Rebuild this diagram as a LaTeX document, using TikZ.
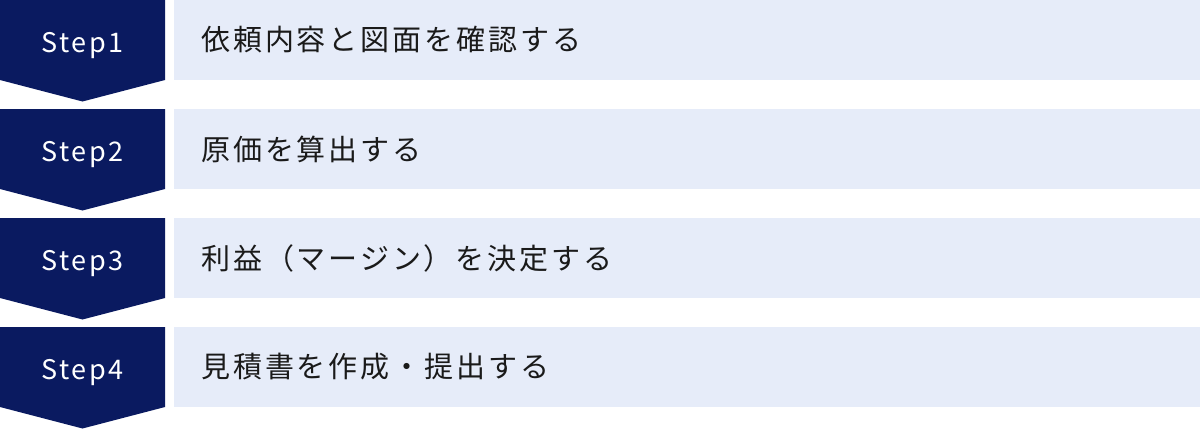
\documentclass[tikz,border=0pt]{standalone}
\usepackage{fontspec}
\setmainfont{Noto Sans CJK JP}
\newfontfamily\jpfont{Noto Sans CJK JP}[LetterSpace=10]
\newfontfamily\stepfont{Noto Sans CJK JP}[LetterSpace=10]
\definecolor{stepnavy}{HTML}{0A1A60}
\definecolor{taskbg}{HTML}{E6ECF9}
\definecolor{tasktxt}{HTML}{1A1A1A}
\tikzset{
  steplabel/.style={text=white,font=\stepfont\fontsize{27}{27}\selectfont,anchor=base,inner sep=0pt},
  tasklabel/.style={text=tasktxt,font=\jpfont\fontsize{29}{29}\selectfont,anchor=west,inner sep=0pt}
}

\begin{document}
\begin{tikzpicture}[x=1pt,y=-1pt]
    \useasboundingbox (0,0) rectangle (1200,429);
    % step arrows
    \fill[stepnavy] (0,0) -- (165,0) -- (165,80) -- (82.5,101.5) -- (0,80) -- cycle;
    \fill[stepnavy] (0,109) -- (165,109) -- (165,189) -- (82.5,210.5) -- (0,189) -- cycle;
    \fill[stepnavy] (0,218) -- (165,218) -- (165,298) -- (82.5,319.5) -- (0,298) -- cycle;
    \fill[stepnavy] (0,327) -- (165,327) -- (165,407) -- (82.5,428.5) -- (0,407) -- cycle;
    % task boxes
    \fill[taskbg] (174,0) rectangle (1200,80);
    \fill[taskbg] (174,109) rectangle (1200,189);
    \fill[taskbg] (174,218) rectangle (1200,298);
    \fill[taskbg] (174,327) rectangle (1200,407);
    % labels
    \node[steplabel] (step1) at (82.5,52) {Step1};
    \node[steplabel] (step2) at (82.5,161) {Step2};
    \node[steplabel] (step3) at (82.5,270) {Step3};
    \node[steplabel] (step4) at (82.5,379) {Step4};
    \node[tasklabel] (task1) at (201,40) {依頼内容と図面を確認する};
    \node[tasklabel] (task2) at (201,149) {原価を算出する};
    \node[tasklabel] (task3) at (201,258) {利益（マージン）を決定する};
    \node[tasklabel] (task4) at (201,367) {見積書を作成・提出する};
\end{tikzpicture}
\end{document}
